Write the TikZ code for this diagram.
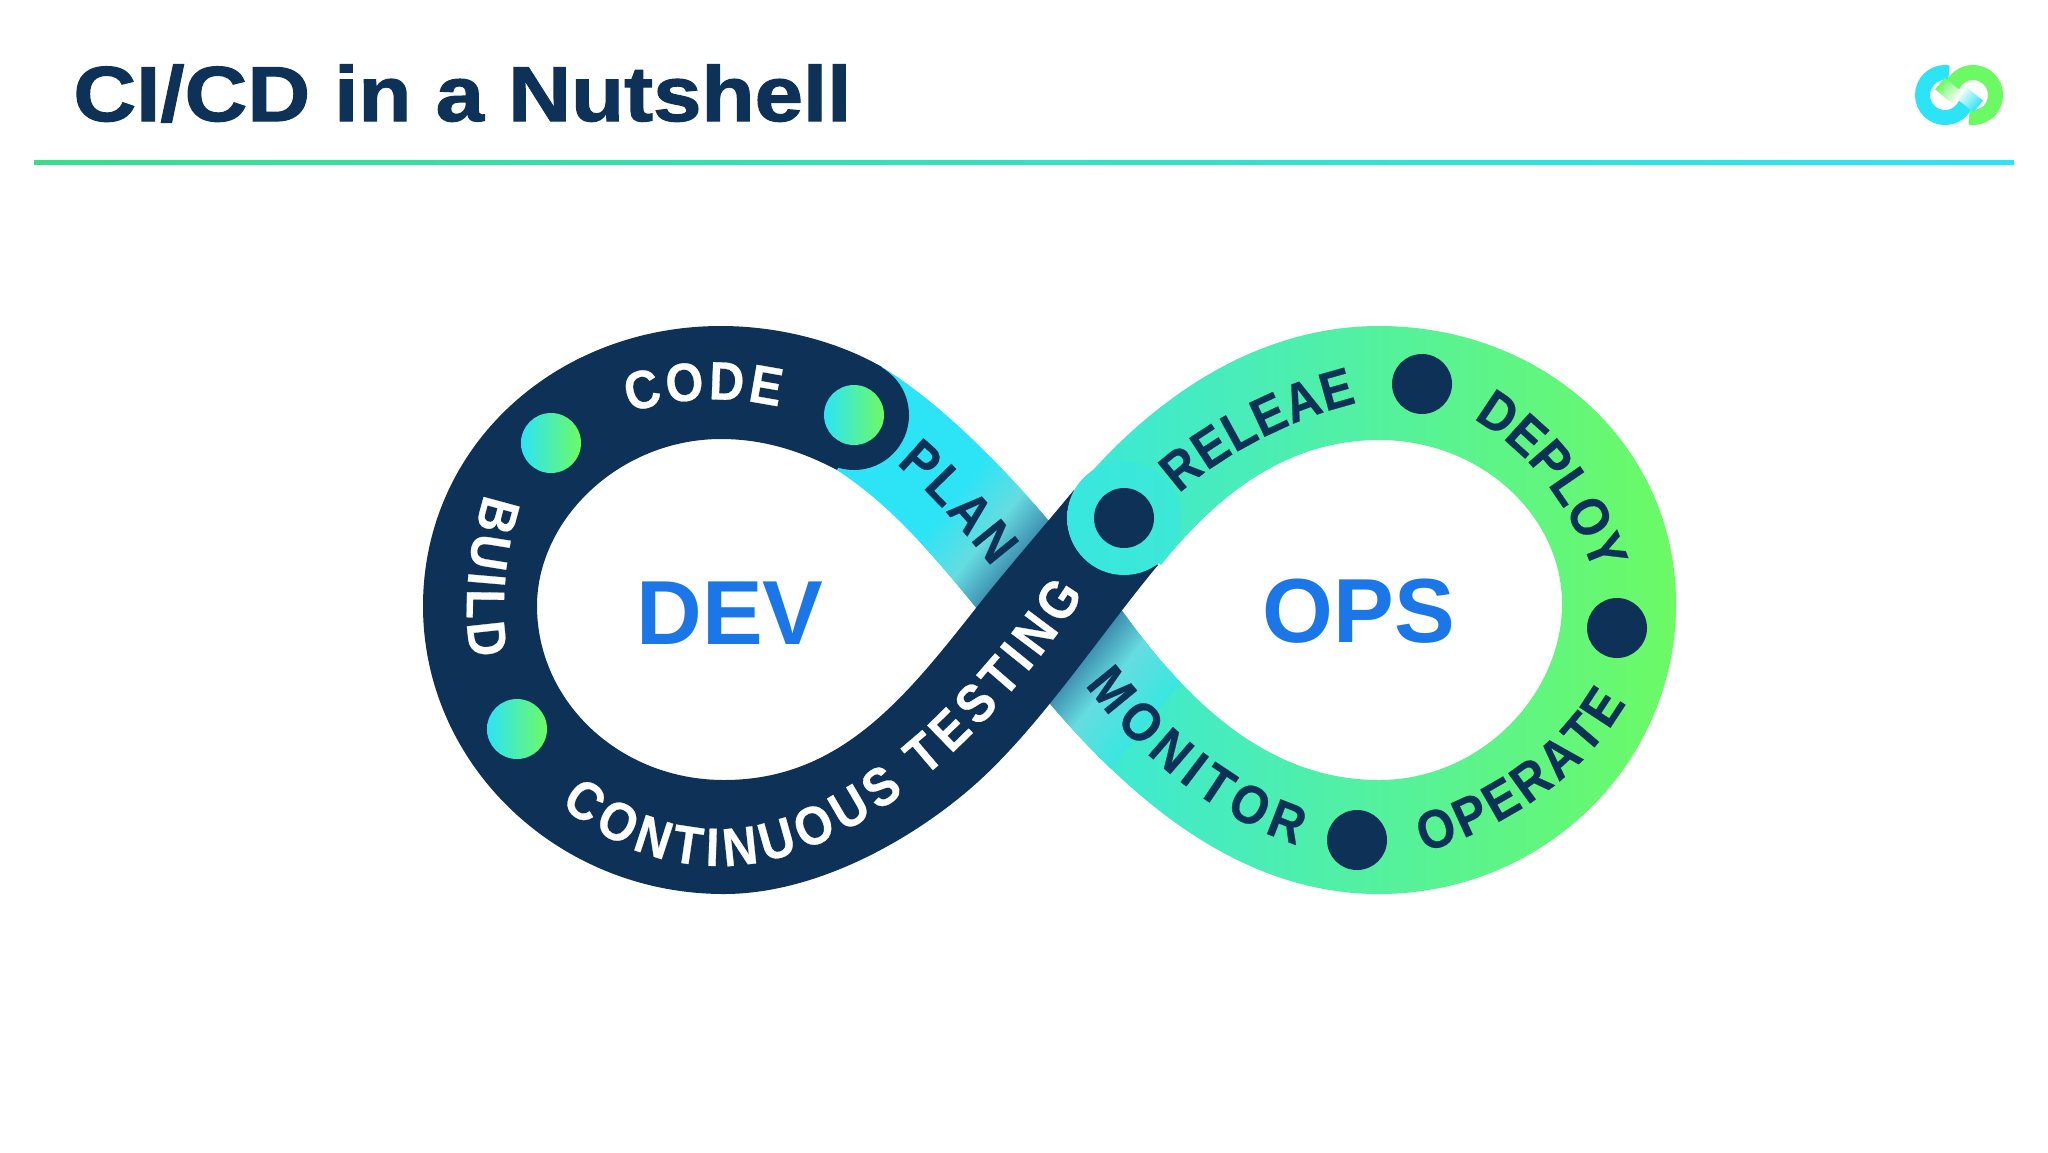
\documentclass[tikz,border=0pt]{standalone}
\usepackage{fontspec}
\usetikzlibrary{decorations.text}
\setmainfont{Liberation Sans}
\newfontfamily\titlefont[FakeBold=1.5,FakeStretch=1.115]{Liberation Sans Bold}
\newfontfamily\lblfam[FakeStretch=0.9,FakeBold=0.5]{Liberation Sans Bold}
\newfontfamily\bigfam{Liberation Sans Bold}
\newcommand{\lblfont}{\fontsize{27}{27}\lblfam}
\definecolor{navy}{HTML}{0E3257}
\definecolor{devblue}{HTML}{1B76E8}
\definecolor{cyanb}{HTML}{2DE4F6}
\definecolor{tealb}{HTML}{38E7E0}
\definecolor{greenb}{HTML}{6CFA64}
\definecolor{shadowb}{HTML}{3A86AA}
\definecolor{liteb}{HTML}{66DCE0}
\definecolor{ruleg}{HTML}{3BDD8C}
\tikzset{
  lbl/.style n args={2}{decorate,decoration={text along path,text={|\color{#1}\lblfont|#2},text align={fit to path}}},
  gdot/.style={left color=cyanb,right color=greenb},
  ndot/.style={fill=navy}
}
\begin{document}
\begin{tikzpicture}[x=0.5pt,y=-0.5pt]
\useasboundingbox (0,0) rectangle (2048,1152);
\fill[white] (0,0) rectangle (2048,1152);
% title
\node[anchor=base west,inner sep=0pt,text=navy,font=\titlefont\fontsize{39}{39}\selectfont] (title) at (73,121) {CI/CD in a Nutshell};
\shade[left color=ruleg,right color=cyanb] (34,160) rectangle (2014,164);
% PLAN band
\begin{scope}
\clip (882,367) .. controls (940,403) and (1000,462) .. (1065,540) -- (990,625) .. controls (930,550) and (890,505) .. (837,470) -- cycle;
\fill[cyanb] (820,350) rectangle (1080,640);
\begin{scope}[transform canvas={rotate around={-39:(1012,565)}}]
\shade[left color=cyanb,right color=liteb] (925,430) rectangle (975,700);
\shade[left color=liteb,right color=shadowb] (974,430) rectangle (1018,700);
\end{scope}
\end{scope}
% OPS loop
\path[left color=tealb,right color=greenb] (1040,692) .. controls (1130,800) and (1240,894) .. (1379,894)
  .. controls (1543,894) and (1676,765) .. (1676,604)
  .. controls (1676,444) and (1543,326) .. (1379,326)
  .. controls (1255,326) and (1150,400) .. (1074,492)
  -- (1161,565) .. controls (1225,485) and (1295,440) .. (1379,440)
  .. controls (1480,440) and (1562,515) .. (1562,604)
  .. controls (1562,695) and (1480,780) .. (1379,780)
  .. controls (1275,780) and (1195,712) .. (1123,612)
  -- (1110,596) -- cycle;
\begin{scope}
\clip (1040,692) .. controls (1130,800) and (1240,894) .. (1379,894) -- (1379,780) .. controls (1275,780) and (1195,712) .. (1123,612) -- (1110,596) -- cycle;
\begin{scope}[transform canvas={rotate around={-39:(1085,658)}}]
\shade[left color=shadowb,right color=liteb] (1080,540) rectangle (1120,780);
\shade[left color=liteb,right color=tealb] (1119,540) rectangle (1175,780);
\end{scope}
\end{scope}
% DEV loop
\fill[navy] (1158,565) .. controls (1100,635) and (1043,722) .. (980,780)
  .. controls (920,835) and (820,894) .. (724,894)
  .. controls (558,894) and (423,765) .. (423,606)
  .. controls (423,447) and (555,326) .. (721,326)
  .. controls (776,326) and (835,340) .. (882,367)
  -- (837,470) .. controls (803,452) and (765,439) .. (721,439)
  .. controls (620,439) and (537,519) .. (537,606)
  .. controls (537,702) and (620,780) .. (724,780)
  .. controls (840,780) and (905,698) .. (976,608)
  .. controls (1000,577) and (1045,525) .. (1074,490) -- cycle;
\fill[navy] (854,415) circle[radius=55];
\shade[left color=tealb,right color=tealb!92!greenb] (1124,518) circle[radius=57];
% dots
\shade[gdot] (551,443) circle[radius=30];
\shade[gdot] (517,729) circle[radius=30];
\shade[gdot] (854,415) circle[radius=30];
\fill[ndot] (1124,518) circle[radius=30];
\fill[ndot] (1422,384) circle[radius=30];
\fill[ndot] (1617,628) circle[radius=30];
\fill[ndot] (1357,840) circle[radius=30];
% centre words
\node[text=devblue,font=\bigfam\fontsize{45.5}{45.5}\selectfont,inner sep=0pt] (dev) at (730,613) {DEV};
\node[text=devblue,font=\bigfam\fontsize{45.5}{45.5}\selectfont,inner sep=0pt] (ops) at (1359,611) {OPS};
% ring labels
\path[lbl={white}{BUILD}] (485,494) .. controls (468,545) and (462,610) .. (471,658);
\path[lbl={white}{CODE}] (630,413) .. controls (670,398) and (730,395) .. (779,407);
\path[lbl={white}{CONTINUOUS TESTING}] (560,805) .. controls (610,845) and (660,866) .. (720,866) .. controls (800,866) and (880,818) .. (950,755) .. controls (1000,708) and (1048,652) .. (1084,594);
\path[lbl={navy}{PLAN}] (896,464) .. controls (930,492) and (962,529) .. (992,567);
\path[lbl={navy}{RELEAE}] (1179,494) .. controls (1215,460) and (1285,420) .. (1357,403);
\path[lbl={navy}{DEPLOY}] (1473,419) .. controls (1520,445) and (1565,495) .. (1591,565);
\path[lbl={navy}{MONITOR}] (1085,685) .. controls (1130,745) and (1205,815) .. (1297,845);
\path[lbl={navy}{OPERATE}] (1424,852) .. controls (1490,833) and (1578,787) .. (1626,703);
% logo
\begin{scope}[shift={(1945,95)},x=0.5pt,y=0.5pt]
\draw[cyanb,line width=7.5pt] (80:22.5) arc[start angle=80,end angle=335,radius=22.5];
\end{scope}
\begin{scope}[shift={(1973,95)},x=0.5pt,y=0.5pt]
\draw[greenb,line width=7.5pt] (-100:22.5) arc[start angle=-100,end angle=155,radius=22.5];
\end{scope}
\begin{scope}[transform canvas={rotate around={-40:(1959,95)}}]
\shade[left color=white,right color=cyanb] (1957,84) rectangle (1981,99);
\shade[left color=greenb,right color=white] (1937,91) rectangle (1961,106);
\end{scope}
\end{tikzpicture}
\end{document}
